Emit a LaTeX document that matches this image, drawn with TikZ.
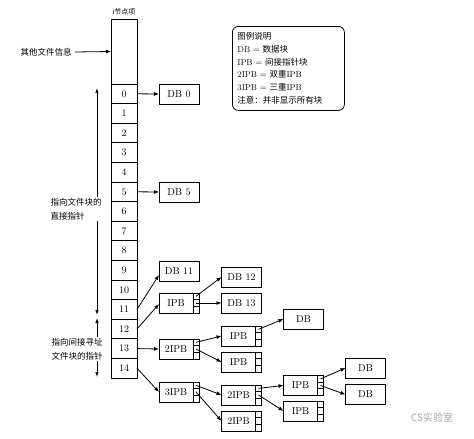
\documentclass[tikz,border=0pt]{standalone}
\usepackage{fontspec}
\newfontfamily\cjk{Noto Sans CJK SC}
\usetikzlibrary{calc,arrows.meta}

% pointer block: name, position, label
\newcommand{\ptrbox}[3]{%
  \node[blk] (#1) at (#2) {#3\kern6pt};
  \draw ([xshift=-6pt]#1.north east) -- ([xshift=-6pt]#1.south east)
    ($(#1.north east)!0.3333!(#1.south east)$) -- ++(-6pt,0)
    ($(#1.north east)!0.6667!(#1.south east)$) -- ++(-6pt,0);
  \coordinate (#1-1) at ($(#1.north east)!0.1667!(#1.south east)+(-3pt,0)$);
  \coordinate (#1-2) at ($(#1.north east)!0.5!(#1.south east)+(-3pt,0)$);
}

\begin{document}
\begin{tikzpicture}[x=1pt,y=-1pt,line width=0.8pt,
    cell/.style={draw,minimum width=26pt,minimum height=19.6pt,inner sep=0pt,outer sep=0pt},
    blk/.style={draw,minimum width=40pt,minimum height=20pt,inner sep=0pt,outer sep=0pt},
    lbl/.style={font=\cjk\fontsize{8.5}{14}\selectfont,align=center,fill=white,inner sep=1pt},
    arr/.style={-{Latex[length=5pt,width=4pt]}},
    darr/.style={{Latex[length=5pt,width=3.5pt]}-{Latex[length=5pt,width=3.5pt]}}]
 \useasboundingbox (0,0) rectangle (474,439);

 % i-node column
 \node[font=\cjk\fontsize{7}{8}\selectfont] (head) at (124,12) {i节点项};
 \node[cell,minimum height=65pt] (other) at (124,51.5) {};
 \foreach \i in {0,...,14}
   \node[cell] (c\i) at (124,{84+19.6*(\i+0.5)}) {\i};

 \node[lbl,inner sep=3pt] (otherinfo) at (46,52) {其他文件信息};
 \draw[arr] (otherinfo.east) -- (other.west);

 % left brackets
 \coordinate (d1a) at (97,88);
 \coordinate (d1b) at (97,315);
 \draw[darr] (d1a) -- (d1b);
 \node[lbl,align=left] (direct) at (76,209) {指向文件块的\\直接指针};
 \coordinate (d2a) at (97,318);
 \coordinate (d2b) at (97,377);
 \draw[darr] (d2a) -- (d2b);
 \node[lbl] (indirect) at (77,349) {指向间接寻址\\文件块的指针};

 % legend
 \node[draw,rounded corners=6pt,anchor=north west,minimum width=112pt,minimum height=84pt,
       inner sep=5pt,align=left,text width=102pt,font=\fontsize{8.5}{12.8}\selectfont] (legend) at (232,26)
   {{\cjk 图例说明}\\
    DB = {\cjk 数据块}\\
    IPB = {\cjk 间接指针块}\\
    2IPB = {\cjk 双重}IPB\\
    3IPB = {\cjk 三重}IPB\\
    {\cjk 注意：并非显示所有块}};

 % blocks
 \node[blk] (db0) at (179,94) {DB 0};
 \node[blk] (db5) at (179,192) {DB 5};
 \node[blk] (db11) at (179,271) {DB 11};
 \ptrbox{ipb}{179,303}{IPB}
 \node[blk] (db12) at (241.5,277) {DB 12};
 \node[blk] (db13) at (241.5,303) {DB 13};
 \ptrbox{dipb}{179,349}{2IPB}
 \ptrbox{ipbA}{241.5,336}{IPB}
 \ptrbox{ipbB}{241.5,362}{IPB}
 \node[blk] (dbA) at (303.5,319) {DB};
 \ptrbox{tipb}{179,392}{3IPB}
 \ptrbox{dipbA}{241.5,395}{2IPB}
 \ptrbox{dipbB}{241.5,421}{2IPB}
 \ptrbox{ipbC}{303.5,385.5}{IPB}
 \ptrbox{ipbD}{303.5,411}{IPB}
 \node[blk] (dbC1) at (365.5,368) {DB};
 \node[blk] (dbC2) at (365.5,394.5) {DB};

 % pointers
 \draw[arr] (c0.east) -- (db0.west);
 \draw[arr] (c5.east) -- (db5.west);
 \draw[arr] (c11.east) -- ([yshift=-4pt]db11.west);
 \draw[arr] (c12.east) -- ([yshift=-1pt]ipb.west);
 \draw[arr] (c13.east) -- (dipb.west);
 \draw[arr] (c14.east) -- (tipb.west);
 \draw[arr] (ipb-1) -- (db12.west);
 \draw[arr] (ipb-2) -- (db13.west);
 \draw[arr] (dipb-1) -- (ipbA.west);
 \draw[arr] (dipb-2) -- (ipbB.west);
 \draw[arr] (ipbA-1) -- (dbA.west);
 \draw[arr] (tipb-1) -- (dipbA.west);
 \draw[arr] (tipb-2) -- (dipbB.west);
 \draw[arr] (dipbA-1) -- (ipbC.west);
 \draw[arr] (dipbA-2) -- (ipbD.west);
 \draw[arr] (ipbC-1) -- (dbC1.west);
 \draw[arr] (ipbC-2) -- (dbC2.west);

 % watermark
 \node[font=\cjk\fontsize{10}{12}\selectfont,text=black!35] (mark) at (432,418) {CS实验室};
\end{tikzpicture}
\end{document}
